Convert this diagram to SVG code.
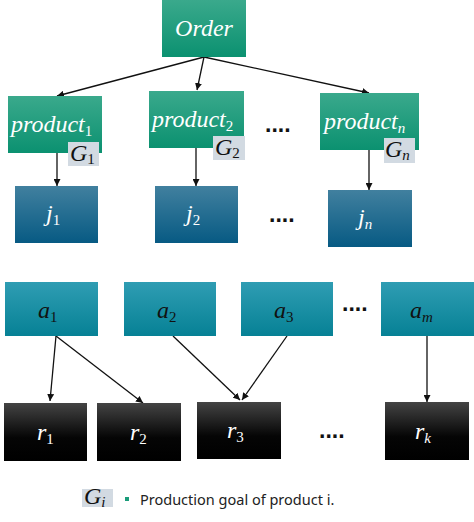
<svg xmlns="http://www.w3.org/2000/svg" width="474" height="522" viewBox="0 0 474 522">
<defs>
<linearGradient id="gGreen" x1="0" y1="0" x2="0" y2="1"><stop offset="0" stop-color="#3aa98c"/><stop offset="1" stop-color="#0b9170"/></linearGradient>
<linearGradient id="gBlue" x1="0" y1="0" x2="0" y2="1"><stop offset="0" stop-color="#41809f"/><stop offset="1" stop-color="#075a83"/></linearGradient>
<linearGradient id="gTeal" x1="0" y1="0" x2="0" y2="1"><stop offset="0" stop-color="#2f9db3"/><stop offset="1" stop-color="#068195"/></linearGradient>
<linearGradient id="gBlack" x1="0" y1="0" x2="0" y2="1"><stop offset="0" stop-color="#444"/><stop offset="0.6" stop-color="#050505"/><stop offset="1" stop-color="#000"/></linearGradient>
<marker id="arr" viewBox="0 0 10 10" refX="10" refY="5" markerWidth="7" markerHeight="7" orient="auto" markerUnits="userSpaceOnUse"><path d="M0,0 L10,5 L0,10 z" fill="#111"/></marker>
</defs>
<style>
.green{fill:url(#gGreen)}
.blue{fill:url(#gBlue)}
.teal{fill:url(#gTeal)}
.black{fill:url(#gBlack)}
.g{fill:#d2dae2}
.m{font-family:"Liberation Serif","DejaVu Serif",serif;font-style:italic;fill:#fff;font-size:24px}
.mk{font-family:"Liberation Serif","DejaVu Serif",serif;font-style:italic;fill:#111;font-size:24px}
.s{font-size:15px;font-style:normal}
.si{font-size:15px}
.dots{font-family:"Liberation Sans",sans-serif;font-weight:bold;font-size:23px;fill:#111}
.c{stroke:#111;stroke-width:1.3;fill:none;marker-end:url(#arr)}
.leg{font-family:"Noto Sans","Liberation Sans",sans-serif;font-size:14.5px;fill:#222}
</style>
<g id="connectors">
<line class="c" x1="204" y1="57" x2="57" y2="96"/>
<line class="c" x1="204" y1="57" x2="197" y2="90"/>
<line class="c" x1="204" y1="57" x2="369" y2="93"/>
<line class="c" x1="57" y1="153" x2="57" y2="186"/>
<line class="c" x1="196" y1="148" x2="196" y2="186"/>
<line class="c" x1="369" y1="150" x2="369" y2="190"/>
<line class="c" x1="56" y1="336" x2="50" y2="401"/>
<line class="c" x1="56" y1="336" x2="143" y2="403"/>
<line class="c" x1="173" y1="336" x2="240" y2="400"/>
<line class="c" x1="287" y1="336" x2="242" y2="400"/>
<line class="c" x1="427" y1="336" x2="427" y2="402"/>
</g>
<g id="order"><rect class="green" x="162" y="0" width="84" height="57"/><text class="m" x="204" y="36" text-anchor="middle">Order</text></g>
<g id="product1"><rect class="green" x="8" y="96" width="94" height="57"/><text class="m" x="11" y="132">product<tspan class="s" dy="4">1</tspan></text></g>
<g id="G1"><rect class="g" x="68" y="142" width="31" height="24"/><text class="mk" x="70" y="161" font-size="21">G<tspan class="s" dy="3">1</tspan></text></g>
<g id="product2"><rect class="green" x="149" y="91" width="95" height="57"/><text class="m" x="152" y="127">product<tspan class="s" dy="4">2</tspan></text></g>
<g id="G2"><rect class="g" x="213" y="136" width="32" height="24"/><text class="mk" x="215" y="155" font-size="21">G<tspan class="s" dy="3">2</tspan></text></g>
<g id="productn"><rect class="green" x="320" y="93" width="99" height="57"/><text class="m" x="324" y="129">product<tspan class="si" dy="4">n</tspan></text></g>
<g id="Gn"><rect class="g" x="384" y="138" width="31" height="25"/><text class="mk" x="385" y="157" font-size="21">G<tspan class="si" dy="3">n</tspan></text></g>
<text class="dots" x="265" y="132">....</text>
<g id="j1"><rect class="blue" x="15" y="186" width="83" height="57"/><text class="m" x="46" y="221">j<tspan class="s" dy="4">1</tspan></text></g>
<g id="j2"><rect class="blue" x="155" y="186" width="83" height="57"/><text class="m" x="186" y="221">j<tspan class="s" dy="4">2</tspan></text></g>
<g id="jn"><rect class="blue" x="328" y="190" width="84" height="57"/><text class="m" x="358" y="225">j<tspan class="si" dy="4">n</tspan></text></g>
<text class="dots" x="269" y="222">....</text>
<g id="a1"><rect class="teal" x="5" y="282" width="93" height="54"/><text class="mk" x="38" y="318">a<tspan class="s" dy="4">1</tspan></text></g>
<g id="a2"><rect class="teal" x="124" y="282" width="92" height="54"/><text class="mk" x="157" y="318">a<tspan class="s" dy="4">2</tspan></text></g>
<g id="a3"><rect class="teal" x="241" y="282" width="92" height="54"/><text class="mk" x="274" y="318">a<tspan class="s" dy="4">3</tspan></text></g>
<g id="am"><rect class="teal" x="381" y="282" width="93" height="54"/><text class="mk" x="410" y="318">a<tspan class="si" dy="4">m</tspan></text></g>
<text class="dots" x="342" y="311">....</text>
<g id="r1"><rect class="black" x="4" y="403" width="83" height="58"/><text class="m" x="37" y="440">r<tspan class="s" dy="4">1</tspan></text></g>
<g id="r2"><rect class="black" x="97" y="403" width="84" height="58"/><text class="m" x="130" y="440">r<tspan class="s" dy="4">2</tspan></text></g>
<g id="r3"><rect class="black" x="197" y="402" width="84" height="57"/><text class="m" x="227" y="438">r<tspan class="s" dy="4">3</tspan></text></g>
<g id="rk"><rect class="black" x="385" y="402" width="84" height="58"/><text class="m" x="415" y="439">r<tspan class="si" dy="4">k</tspan></text></g>
<text class="dots" x="319" y="438">....</text>
<g id="legend">
<rect class="g" x="82" y="489" width="31" height="18"/>
<text class="mk" x="84" y="504" font-size="21">G<tspan class="si" dy="3">i</tspan></text>
<rect x="125" y="497" width="4" height="4" fill="#1a9c7a"/>
<text class="leg" x="140" y="505">Production goal of product i.</text>
</g>
</svg>
